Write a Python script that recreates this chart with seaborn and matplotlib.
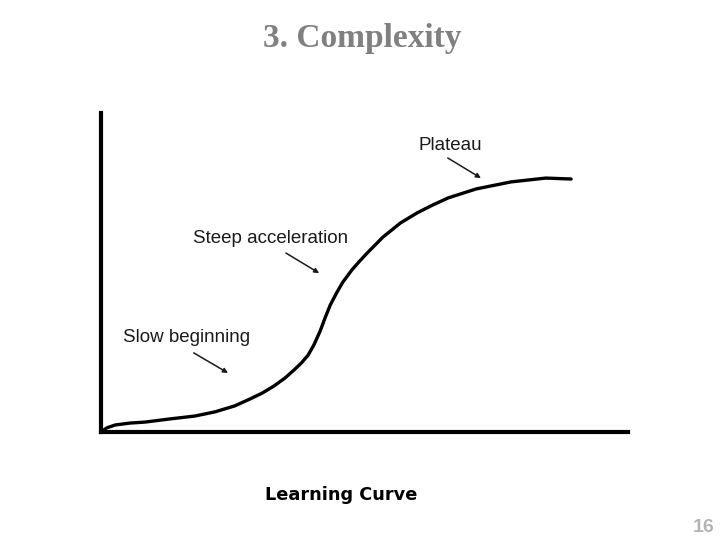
import matplotlib
matplotlib.use("Agg")
import matplotlib.pyplot as plt
import seaborn as sns
import pandas as pd

# Learning curve (x: practice, y: proficiency, both 0-100)
practice = [0, 1.1, 2.7, 5.5, 8.3, 13.1, 17.8, 21.6, 25.4, 28.2, 30.6, 32.8,
            34.9, 36.6, 38.0, 39.3, 40.4, 41.6, 42.5, 43.5, 44.8, 45.9, 47.6,
            49.1, 50.5, 53.5, 56.8, 60.0, 63.0, 65.9, 71.2, 77.8, 84.4, 89.2]
proficiency = [0, 1.3, 2.2, 2.8, 3.1, 4.1, 5.0, 6.3, 8.2, 10.3, 12.2, 14.4,
               16.9, 19.4, 21.6, 24.1, 27.3, 31.7, 35.7, 39.8, 43.9, 47.0, 50.8,
               53.6, 56.1, 61.1, 65.5, 68.7, 71.2, 73.4, 76.2, 78.4, 79.6, 79.3]

labels = ["Plateau", "Steep acceleration", "Slow beginning"]
label_pos = [(60.3, 88.4), (17.5, 59.2), (4.2, 28.2)]
arrow_tail = [(65.8, 85.9), (35.1, 56.1), (17.6, 24.8)]
arrow_head = [(72.1, 79.6), (41.4, 49.8), (24.1, 18.5)]

title = "3. Complexity"
caption = "Learning Curve"
page = "16"

df = pd.DataFrame({"practice": practice, "proficiency": proficiency})

sns.set_theme(style="white")
plt.rcParams['font.family'] = ['Liberation Sans', 'DejaVu Sans']

fig = plt.figure(figsize=(7.28, 5.46), dpi=100)
ax = fig.add_axes([101 / 728, 1 - 432 / 546, 527 / 728, 319 / 546])

sns.lineplot(data=df, x="practice", y="proficiency", ax=ax, color="black",
             lw=2.4, sort=False, estimator=None, solid_capstyle="round",
             solid_joinstyle="round")

ax.set_xlim(0, 100)
ax.set_ylim(0, 100)
ax.set_xticks([])
ax.set_yticks([])
ax.set_xlabel("")
ax.set_ylabel("")
for s in ["top", "right"]:
    ax.spines[s].set_visible(False)
for s in ["left", "bottom"]:
    ax.spines[s].set_linewidth(3.0)
    ax.spines[s].set_color("black")
    ax.spines[s].set_capstyle("projecting")

for lab, (tx, ty), tail, head in zip(labels, label_pos, arrow_tail, arrow_head):
    ax.text(tx, ty, lab, fontsize=13.5, color="#1a1a1a", ha="left", va="baseline",
            family=["Liberation Sans", "DejaVu Sans"])
    ax.annotate("", xy=head, xytext=tail,
                arrowprops=dict(arrowstyle="-|>", color="#1a1a1a", lw=1.1,
                                mutation_scale=7, shrinkA=0, shrinkB=0))

fig.text(362 / 728, 1 - 47 / 546, title, ha="center", va="baseline",
         fontsize=24, fontweight="bold", color="#808080",
         family=["Liberation Serif", "DejaVu Serif"])
fig.text(265 / 728, 1 - 500 / 546, caption, ha="left", va="baseline",
         fontsize=12.8, fontweight="bold", color="black", family=["DejaVu Sans"])
fig.text(715 / 728, 1 - 532 / 546, page, ha="right", va="baseline",
         fontsize=14, fontweight="bold", color="#b3b3b3",
         family=["Liberation Sans", "DejaVu Sans"])

fig.savefig("out.png", dpi=100)
